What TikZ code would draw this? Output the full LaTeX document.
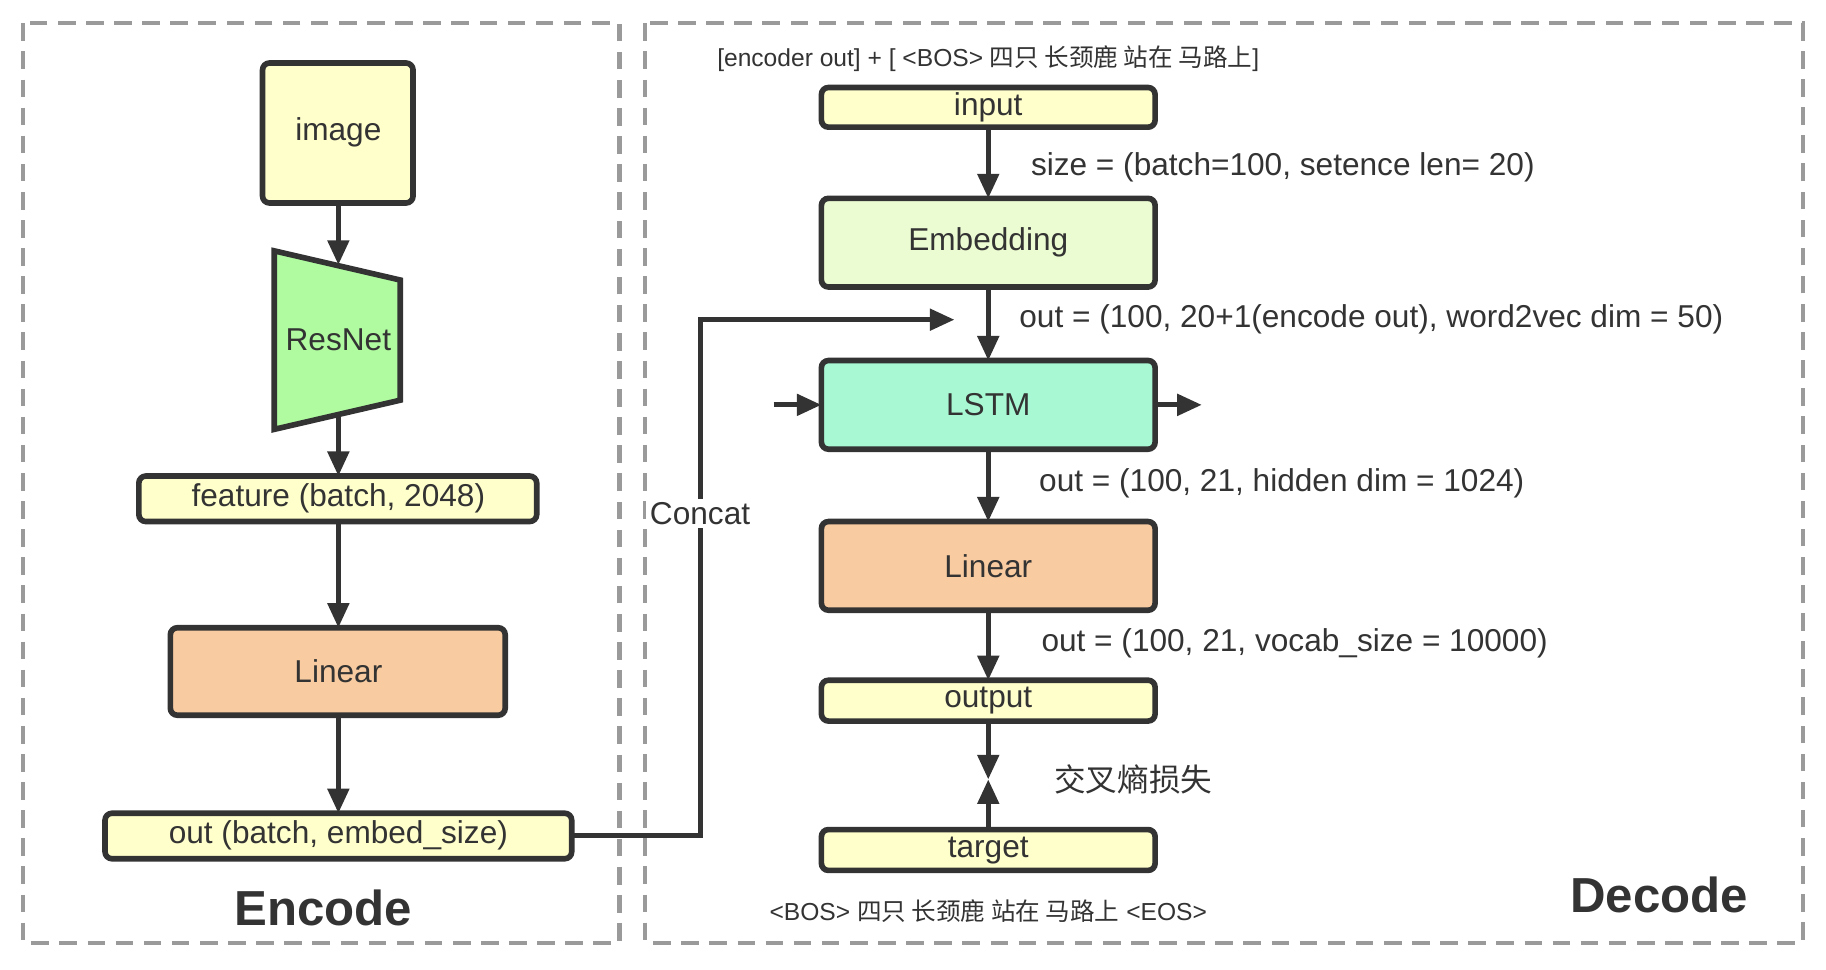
\documentclass[tikz,border=0pt]{standalone}
\usepackage{fontspec}
\setmainfont{Liberation Sans}
\newfontfamily\cjk{Noto Sans CJK SC}
\usetikzlibrary{arrows.meta}
\definecolor{lineColor}{HTML}{333333}
\definecolor{frameColor}{HTML}{9A9A9A}
\definecolor{ioColor}{HTML}{FFFFCC}
\definecolor{resColor}{HTML}{B0FBA0}
\definecolor{embColor}{HTML}{ECFCD2}
\definecolor{lstmColor}{HTML}{A8F8D4}
\definecolor{linColor}{HTML}{F8CBA0}
\tikzset{
  blk/.style={draw=lineColor,line width=1.6pt,rounded corners=2pt,fill=ioColor,text=lineColor},
  lbl/.style={anchor=west,text=lineColor,font=\fontsize{9}{11}\selectfont},
  arr/.style={draw=lineColor,line width=1.4pt,-{Triangle[length=7pt,width=6pt]}}
}
\begin{document}
\begin{tikzpicture}[x=0.01167cm,y=-0.01167cm,font=\fontsize{9}{11}\selectfont]
    \useasboundingbox (0,0) rectangle (1565,831);

    % frames
    \draw[frameColor,line width=1.2pt,dash pattern=on 5pt off 3pt] (20,20) rectangle (531,808);
    \draw[frameColor,line width=1.2pt,dash pattern=on 5pt off 3pt] (553,20) rectangle (1545,808);

    % encode side
    \draw[blk] (225,54) rectangle (354,174);
    \node[text=lineColor] (imgT) at (290,113) {image};
    \draw[draw=lineColor,line width=1.6pt,fill=resColor] (235,215) -- (343,240) -- (343,343) -- (235,368) -- cycle;
    \node[text=lineColor] (res) at (290,291) {ResNet};
    \coordinate (resTop) at (290,227);
    \coordinate (resBot) at (290,356);
    \draw[blk] (119,408) rectangle (460,447);
    \node[text=lineColor] (feat) at (290,427) {feature (batch, 2048)};
    \draw[blk,fill=linColor] (146,538) rectangle (433,613);
    \node[text=lineColor] (linL) at (290,575) {Linear};
    \draw[blk] (90,697) rectangle (490,736);
    \node[text=lineColor] (outE) at (290,716) {out (batch, embed\_size)};
    \coordinate (outEE) at (490,716);
    \node[text=lineColor,font=\bfseries\fontsize{14}{16}\selectfont] (enc) at (277,778) {Encode};

    \draw[arr] (290,174) -- (resTop);
    \draw[arr] (resBot) -- (290,408);
    \draw[arr] (290,447) -- (290,538);
    \draw[arr] (290,613) -- (290,697);

    % decode side
    \node[text=lineColor,font=\fontsize{7}{9}\selectfont] (topT) at (847,50) {[encoder out] + [ <BOS> {\cjk 四只 长颈鹿 站在 马路上}]};
    \draw[blk] (704,75) rectangle (990,109);
    \node[text=lineColor] (inp) at (847,92) {input};
    \draw[blk,fill=embColor] (704,170) rectangle (990,246);
    \node[text=lineColor] (emb) at (847,208) {Embedding};
    \draw[blk,fill=lstmColor] (704,309) rectangle (990,385);
    \node[text=lineColor] (lstm) at (847,347) {LSTM};
    \draw[blk,fill=linColor] (704,447) rectangle (990,523);
    \node[text=lineColor] (linR) at (847,485) {Linear};
    \draw[blk] (704,583) rectangle (990,618);
    \node[text=lineColor] (outp) at (847,600) {output};
    \draw[blk] (704,711) rectangle (990,746);
    \node[text=lineColor] (tgt) at (847,729) {target};
    \node[text=lineColor,font=\fontsize{7}{9}\selectfont] (botT) at (847,781) {<BOS> {\cjk 四只 长颈鹿 站在 马路上} <EOS>};
    \node[text=lineColor,font=\bfseries\fontsize{14}{16}\selectfont] (dec) at (1422,767) {Decode};

    \draw[arr] (847,109) -- (847,170);
    \draw[arr] (847,246) -- (847,309);
    \draw[arr] (847,385) -- (847,447);
    \draw[arr] (847,523) -- (847,583);
    \coordinate (ce) at (847,668);
    \draw[arr] (847,618) -- (ce);
    \draw[arr] (847,711) -- (ce);
    \coordinate (lIn) at (663,347);
    \coordinate (rOut) at (1030,347);
    \draw[arr] (lIn) -- (704,347);
    \draw[arr] (990,347) -- (rOut);

    \node[lbl] (l1) at (873,143) {size = (batch=100, setence len= 20)};
    \node[lbl] (l2) at (863,274) {out = (100, 20+1(encode out), word2vec dim = 50)};
    \node[lbl] (l3) at (880,414) {out = (100, 21, hidden dim = 1024)};
    \node[lbl] (l4) at (882,551) {out = (100, 21, vocab\_size = 10000)};
    \node[lbl,font=\cjk\fontsize{9}{11}\selectfont] (l5) at (893,668) {交叉熵损失};

    % concat
    \coordinate (cTop) at (818,274);
    \draw[arr] (outEE) -- (600,716) -- (600,274) -- (cTop);
    \node[fill=white,text=lineColor,inner sep=1pt] (cat) at (600,440) {Concat};
\end{tikzpicture}
\end{document}
